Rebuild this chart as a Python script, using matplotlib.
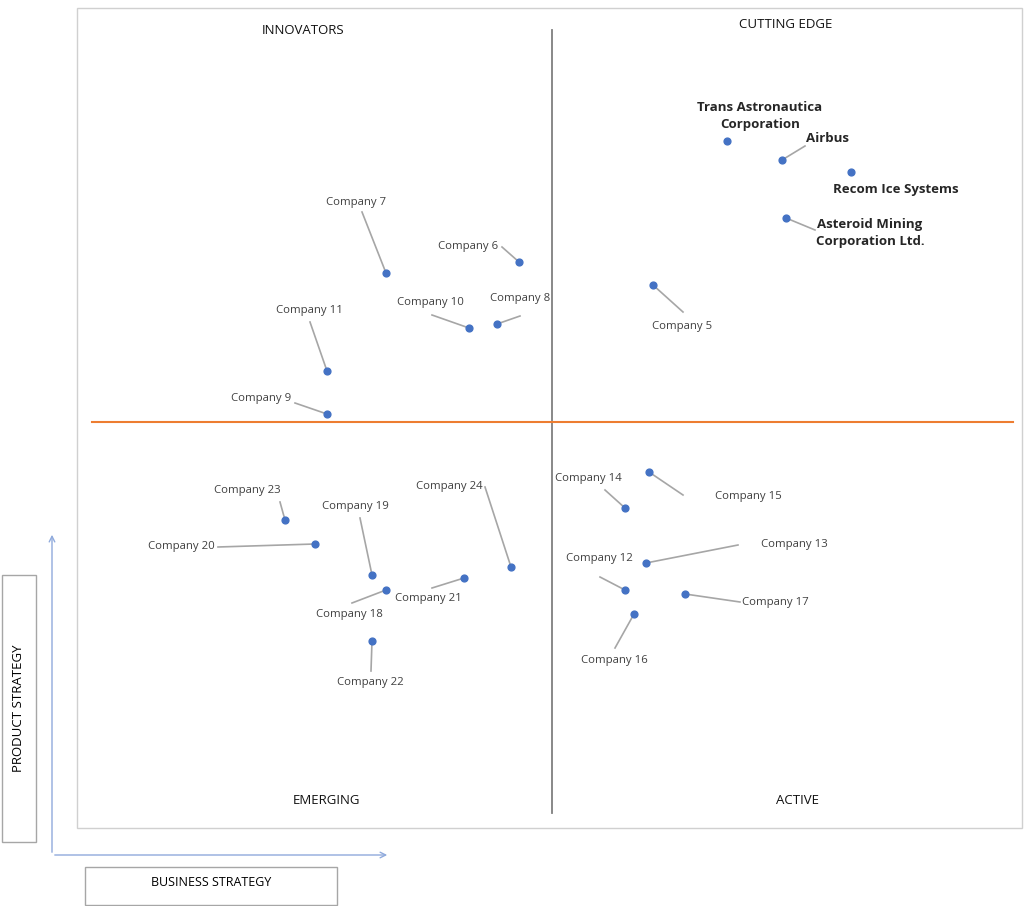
import matplotlib
matplotlib.use("Agg")
import matplotlib.pyplot as plt
from matplotlib.patches import Rectangle

# positions (pixel-like units, y grows downward)
names = ["Trans Astronautica\nCorporation", "Airbus", "Recom Ice Systems",
         "Asteroid Mining\nCorporation Ltd.", "Company 5", "Company 6", "Company 7",
         "Company 8", "Company 10", "Company 11", "Company 9", "Company 23",
         "Company 20", "Company 19", "Company 18", "Company 21", "Company 24",
         "Company 22", "Company 14", "Company 15", "Company 13", "Company 12",
         "Company 17", "Company 16"]
point_x = [727, 782, 851, 786, 653, 519, 386, 497, 469, 327, 327, 285,
           315, 372, 386, 464, 511, 372, 625, 649, 646, 625, 685, 634]
point_y = [141, 160, 172, 218, 285, 262, 273, 324, 328, 371, 414, 520,
           544, 575, 590, 578, 567, 641, 508, 472, 563, 590, 594, 614]
label_x = [760, 828, 896, 870, 682, 468, 356, 520, 430, 309, 261, 247,
           181, 355, 349, 428, 449, 370, 588, 748, 794, 599, 775, 614]
label_y = [116, 138, 190, 233, 326, 247, 202, 298, 303, 311, 399, 490,
           547, 507, 614, 599, 487, 682, 479, 496, 545, 559, 602, 661]
# end of leader line (None = no leader)
lead_x = [None, 805, None, 815, 683, 502, 362, 520, 432, 310, 295, 280,
          218, 360, 352, 432, 485, 371, 605, 683, 738, 600, 740, 615]
lead_y = [None, 146, None, 230, 312, 247, 212, 316, 315, 322, 403, 502,
          547, 518, 603, 588, 487, 671, 490, 495, 545, 577, 602, 648]
bold = [True, True, True, True] + [False] * 20

plt.rcParams["font.family"] = "Open Sans"
fig = plt.figure(figsize=(10.24, 9.06), dpi=100)
ax = fig.add_axes([0, 0, 1, 1])
ax.set_xlim(0, 1024)
ax.set_ylim(906, 0)
ax.axis("off")

ax.add_patch(Rectangle((77, 8), 945, 820, fill=False, ec="#d0d0d0", lw=1))
ax.plot([552, 552], [30, 813], color="#7f7f7f", lw=1.3)
ax.plot([92, 1013], [422, 422], color="#ed7d31", lw=1.5)

for q, (qx, qy) in {"INNOVATORS": (303, 30), "CUTTING EDGE": (786, 24),
                    "EMERGING": (327, 801), "ACTIVE": (797, 801)}.items():
    ax.text(qx, qy, q, ha="center", va="center", fontsize=9.5, color="#111")

for i in range(len(names)):
    if lead_x[i] is not None:
        ax.plot([point_x[i], lead_x[i]], [point_y[i], lead_y[i]], color="#a6a6a6", lw=1.2)
    ax.text(label_x[i], label_y[i], names[i], ha="center", va="center",
            fontsize=9.5 if bold[i] else 8.2, fontweight="bold" if bold[i] else "normal",
            color="#262626" if bold[i] else "#404040", linespacing=1.4)
ax.scatter(point_x, point_y, s=24, color="#4472c4", zorder=5)

# axis arrows and captions
ax.annotate("", xy=(52, 532), xytext=(52, 855),
            arrowprops=dict(arrowstyle="->", color="#8faadc", lw=1))
ax.annotate("", xy=(390, 855), xytext=(52, 855),
            arrowprops=dict(arrowstyle="->", color="#8faadc", lw=1))
ax.add_patch(Rectangle((2, 575), 34, 267, fill=False, ec="#a6a6a6", lw=1))
ax.text(19, 708, "PRODUCT STRATEGY", rotation=90, ha="center", va="center", fontsize=9.5)
ax.add_patch(Rectangle((85, 867), 252, 38, fill=False, ec="#a6a6a6", lw=1))
ax.text(211, 882, "BUSINESS STRATEGY", ha="center", va="center", fontsize=9)

fig.savefig("out.png", dpi=100)
